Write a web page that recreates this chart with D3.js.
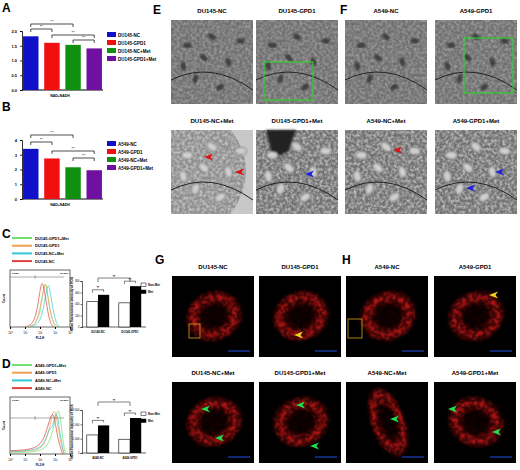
<!DOCTYPE html>
<html><head><meta charset="utf-8">
<script src="https://cdn.jsdelivr.net/npm/d3@7"></script>
<style>body{margin:0;background:#fff}text{font-family:Arial,"Liberation Sans",sans-serif}</style>
</head><body>
<svg id="fig" width="520" height="470"></svg>
<script>
// A, B: NAD+/NADH
var groupsA = ["DU145-NC","DU145-GPD1","DU145-NC+Met","DU145-GPD1+Met"];
var valuesA = [1.82,1.6,1.53,1.41];
var ticksA = [0,0.5,1.0,1.5,2.0];
var groupsB = ["A549-NC","A549-GPD1","A549-NC+Met","A549-GPD1+Met"];
var valuesB = [3.4,2.75,2.15,1.95];
var ticksB = [0,1,2,3,4];
var barColors = ["#1010c8","#f01010","#109010","#7010a0"];
// C, D: ROS
var rosGroupsC = ["DU145-NC","DU145-GPD1"];
var rosNonMetC = [440,420];
var rosMetC = [560,710];
var rosTicksC = [0,200,400,600,800];
var rosGroupsD = ["A549-NC","A549-GPD1"];
var rosNonMetD = [1260,960];
var rosMetD = [1925,2440];
var rosTicksD = [0,1000,2000,3000];
var flowColors = ["#70e070","#f0a050","#30c8d8","#e04040"];
// flow curves: [log10 FL2, relative count]
var flowC = [
  [[1.2,0],[1.8,0.05],[2.1,0.4],[2.3,0.85],[2.45,0.75],[2.7,0.2],[3.0,0.02],[3.3,0]],
  [[1.2,0],[1.8,0.05],[2.1,0.5],[2.35,0.9],[2.5,0.6],[2.8,0.1],[3.1,0]],
  [[1.3,0],[2.0,0.05],[2.3,0.45],[2.55,0.88],[2.7,0.6],[3.0,0.1],[3.3,0]],
  [[1.0,0],[1.6,0.05],[1.9,0.45],[2.1,0.9],[2.3,0.7],[2.6,0.1],[2.9,0]]
];
var flowD = [
  [[0,0.03],[1.5,0.03],[2.3,0.08],[2.8,0.3],[3.2,0.95],[3.4,0.6],[3.6,0.05],[3.8,0]],
  [[0,0.04],[1.5,0.05],[2.3,0.12],[2.7,0.55],[2.95,0.92],[3.2,0.5],[3.5,0.03],[3.7,0]],
  [[0,0.05],[1.5,0.06],[2.3,0.15],[2.6,0.5],[2.85,0.45],[3.1,0.9],[3.3,0.4],[3.6,0]],
  [[0,0.06],[1.5,0.08],[2.2,0.2],[2.6,0.6],[2.9,0.85],[3.15,0.3],[3.5,0]]
];
var emLabels = ["DU145-NC","DU145-GPD1","A549-NC","A549-GPD1","DU145-NC+Met","DU145-GPD1+Met","A549-NC+Met","A549-GPD1+Met"];

var svg = d3.select("#fig");
function letter(t,x,y){ svg.append("text").attr("x",x).attr("y",y).attr("font-size",12).attr("font-weight","bold").text(t); }
function small(t,x,y,fs,anchor){ return svg.append("text").attr("x",x).attr("y",y).attr("font-size",fs||4).attr("font-weight","bold").attr("text-anchor",anchor||"start").text(t); }

function nadChart(groups, values, ticks, top, bottom, sigs){
  var x = d3.scaleBand().domain(groups).range([22,103]).paddingInner(0.27).paddingOuter(0.05);
  var y = d3.scaleLinear().domain([0,ticks[ticks.length-1]]).range([bottom,top]);
  var g = svg.append("g");
  g.append("g").attr("transform","translate(22,0)").call(d3.axisLeft(y).tickValues(ticks).tickSize(2).tickFormat(function(d){return ticks[1]<1?d3.format(".1f")(d):d;}))
   .call(function(a){a.selectAll("text").attr("font-size",4).attr("font-weight","bold");a.selectAll("path,line").attr("stroke-width",0.8);});
  g.append("line").attr("x1",22).attr("x2",103).attr("y1",bottom).attr("y2",bottom).attr("stroke","#000");
  g.selectAll("rect.b").data(values).enter().append("rect")
   .attr("x",function(d,i){return x(groups[i]);}).attr("width",x.bandwidth())
   .attr("y",function(d){return y(d);}).attr("height",function(d){return bottom-y(d);})
   .attr("fill",function(d,i){return barColors[i];});
  sigs.forEach(function(s){
    var x1 = x(groups[s[0]])+x.bandwidth()/2, x2 = x(groups[s[1]])+x.bandwidth()/2, yy = s[2];
    g.append("path").attr("d","M"+x1+","+(yy+3)+"V"+yy+"H"+x2+"V"+(yy+3)).attr("fill","none").attr("stroke","#000").attr("stroke-width",0.7);
    g.append("text").attr("x",(x1+x2)/2).attr("y",yy-1).attr("text-anchor","middle").attr("font-size",4).text("**");
  });
  small("NAD+NADH",60,bottom+7,3.5,"middle");
  groups.forEach(function(n,i){
    g.append("rect").attr("x",107).attr("y",top+1+i*8).attr("width",9).attr("height",5).attr("fill",barColors[i]);
    small(n,118,top+5.5+i*8,4.5);
  });
}
letter("A",2,12);
nadChart(groupsA,valuesA,ticksA,31,90,[[0,2,24],[0,1,29],[1,3,35],[2,3,40]]);
letter("B",2,111);
nadChart(groupsB,valuesB,ticksB,140,199,[[0,2,135],[0,1,142],[1,3,151],[2,3,158]]);

function flowPanel(labels, curves, top, gateY){
  labels.forEach(function(n,i){
    svg.append("line").attr("x1",12).attr("x2",32).attr("y1",top+i*7.7).attr("y2",top+i*7.7).attr("stroke",flowColors[i]).attr("stroke-width",2);
    small(n,35,top+1.5+i*7.7,4);
  });
  var bx0 = 10, bx1 = 70, by0 = top+32, by1 = top+89;
  var x = d3.scaleLinear().domain([0,4]).range([bx0,bx1]);
  var y = d3.scaleLinear().domain([0,1]).range([by1,by0+3]);
  svg.append("rect").attr("x",bx0).attr("y",by0).attr("width",bx1-bx0).attr("height",by1-by0).attr("fill","none").attr("stroke","#000").attr("stroke-width",0.6);
  svg.append("g").attr("transform","translate(0,"+by1+")").call(d3.axisBottom(x).ticks(4).tickSize(2).tickFormat(function(d){return "10"+["⁰","¹","²","³","⁴"][d];}))
   .call(function(a){a.selectAll("text").attr("font-size",3);a.select("path").remove();});
  var line = d3.line().x(function(p){return x(p[0]);}).y(function(p){return y(p[1]);}).curve(d3.curveBasis);
  curves.forEach(function(c,i){
    svg.append("path").attr("d",line(c)).attr("fill","none").attr("stroke",flowColors[i]).attr("stroke-width",0.7);
  });
  svg.append("path").attr("d","M"+bx0+","+gateY+"H"+(bx1-6)+"M"+(bx0+25)+","+(gateY-2)+"V"+(gateY+2)).attr("stroke","#555").attr("stroke-width",0.5);
  small("Count",5,(by0+by1)/2,3).attr("transform","rotate(-90,5,"+((by0+by1)/2)+")").attr("text-anchor","middle");
  small("FL2-H",(bx0+bx1)/2,by1+12,3,"middle");
  small("0.05%",12,by0+4,2.5); small("99.95%",bx1-10,by0+4,2.5);
}
function rosChart(groups, non, met, ticks, top, bottom, sigY){
  var y = d3.scaleLinear().domain([0,ticks[ticks.length-1]]).range([bottom,top]);
  var x = d3.scaleBand().domain(groups).range([82,146]).paddingInner(0.3).paddingOuter(0.15);
  var w = x.bandwidth()/2;
  svg.append("g").attr("transform","translate(82,0)").call(d3.axisLeft(y).tickValues(ticks).tickSize(1.5).tickPadding(1))
   .call(function(a){a.selectAll("text").attr("font-size",2.6);a.selectAll("path,line").attr("stroke-width",0.6);});
  svg.append("line").attr("x1",82).attr("x2",146).attr("y1",bottom).attr("y2",bottom).attr("stroke","#000").attr("stroke-width",0.6);
  groups.forEach(function(gn,i){
    svg.append("rect").attr("x",x(gn)).attr("y",y(non[i])).attr("width",w).attr("height",bottom-y(non[i])).attr("fill","#fff").attr("stroke","#000").attr("stroke-width",0.6);
    svg.append("rect").attr("x",x(gn)+w).attr("y",y(met[i])).attr("width",w).attr("height",bottom-y(met[i])).attr("fill","#000");
    var yy = y(Math.max(non[i],met[i]))-5;
    svg.append("path").attr("d","M"+(x(gn)+w/2)+","+(yy+3)+"V"+yy+"H"+(x(gn)+1.5*w)+"V"+(yy+2)).attr("fill","none").attr("stroke","#000").attr("stroke-width",0.5);
    small("**",x(gn)+w,yy-0.5,3,"middle");
    small(gn,x(gn)+w,bottom+6,2.8,"middle");
  });
  var c0 = x(groups[0])+w, c1 = x(groups[1])+w;
  svg.append("path").attr("d","M"+c0+","+(sigY+4)+"V"+sigY+"H"+c1+"V"+(sigY+4)).attr("fill","none").attr("stroke","#000").attr("stroke-width",0.5);
  small("**",(c0+c1)/2,sigY-0.5,3,"middle");
  small("Mean fluorescence intensity of ROS",73,(top+bottom)/2,3.2).attr("text-anchor","middle").attr("transform","rotate(-90,73,"+((top+bottom)/2)+")");
  [["Non-Met","#fff"],["Met","#000"]].forEach(function(l,i){
    svg.append("rect").attr("x",141).attr("y",top+2+i*7).attr("width",5).attr("height",3.5).attr("fill",l[1]).attr("stroke","#000").attr("stroke-width",0.5);
    small(l[0],148,top+5+i*7,3);
  });
}
letter("C",2,238);
flowPanel(["DU145-GPD1+Met","DU145-GPD1","DU145-NC+Met","DU145-NC"],flowC,238,277);
rosChart(rosGroupsC,rosNonMetC,rosMetC,rosTicksC,281,327,278);
letter("D",2,368);
flowPanel(["A549-GPD1+Met","A549-GPD1","A549-NC+Met","A549-NC"],flowD,365,418);
rosChart(rosGroupsD,rosNonMetD,rosMetD,rosTicksD,410,453,402);

var defs = svg.append("defs");
defs.append("filter").attr("id","blur").append("feGaussianBlur").attr("stdDeviation",1.2);
// grainy texture for micrographs
var tex = defs.append("filter").attr("id","grain").attr("x",0).attr("y",0).attr("width",1).attr("height",1);
tex.append("feTurbulence").attr("type","fractalNoise").attr("baseFrequency",0.35).attr("numOctaves",2).attr("seed",3).attr("result","n");
tex.append("feColorMatrix").attr("in","n").attr("type","matrix").attr("values","0 0 0 0 0  0 0 0 0 0  0 0 0 0 0  0 0 0 1.6 -0.55").attr("result","a");
tex.append("feComposite").attr("in","SourceGraphic").attr("in2","a").attr("operator","in");
var spk = defs.append("filter").attr("id","speck").attr("x",0).attr("y",0).attr("width",1).attr("height",1);
spk.append("feTurbulence").attr("type","fractalNoise").attr("baseFrequency",0.25).attr("numOctaves",2).attr("seed",7).attr("result","n");
spk.append("feColorMatrix").attr("in","n").attr("type","matrix").attr("values","0 0 0 0 0  0 0 0 0 0  0 0 0 0 0  0 0 0 3 -1.1").attr("result","a");
spk.append("feGaussianBlur").attr("in","SourceGraphic").attr("stdDeviation",1.5).attr("result","b");
spk.append("feComposite").attr("in","b").attr("in2","a").attr("operator","in");

// E, F electron microscopy tiles
var emCols = [171,256,345,435], emRows = [20,130];
letter("E",153,14); letter("F",340,14);
emLabels.forEach(function(n,i){
  var cx = emCols[i%4], cy = emRows[Math.floor(i/4)];
  small(n,cx+41,cy-7,6,"middle");
  svg.append("rect").attr("x",cx).attr("y",cy).attr("width",82).attr("height",84).attr("fill",i==4?"#8e8e8e":"#707070");
  svg.append("rect").attr("x",cx).attr("y",cy).attr("width",82).attr("height",84).attr("fill",i>=4?"#d6d6d6":"#a8a8a8").attr("filter","url(#grain)");
  if (i==4) svg.append("path").attr("d","M"+(cx+60)+","+cy+"Q"+(cx+90)+","+(cy+40)+" "+(cx+60)+","+(cy+84)+"H"+(cx+82)+"V"+cy+"z").attr("fill","#c8c8c8");
  if (i==5) svg.append("path").attr("d","M"+(cx+10)+","+cy+"h30l-8,22l-15,6z").attr("fill","#222").attr("filter","url(#blur)");
  var blobs = [[0.2,0.3],[0.5,0.2],[0.7,0.5],[0.3,0.7],[0.6,0.8],[0.85,0.25],[0.4,0.45],[0.15,0.55]];
  blobs.forEach(function(b,j){
    svg.append("ellipse").attr("cx",cx+b[0]*82).attr("cy",cy+b[1]*84).attr("rx",i>=4?6:4).attr("ry",i>=4?4:2.3)
      .attr("transform","rotate("+(j*37)+","+(cx+b[0]*82)+","+(cy+b[1]*84)+")")
      .attr("fill",i>=4?"#d0d0d0":"#404040").attr("stroke","#2a2a2a").attr("stroke-width",0.7).attr("filter","url(#blur)");
  });
  svg.append("path").attr("d","M"+cx+","+(cy+60)+"Q"+(cx+40)+","+(cy+40)+" "+(cx+82)+","+(cy+70)).attr("fill","none").attr("stroke","#222").attr("stroke-width",1);
});
svg.append("rect").attr("x",264).attr("y",62).attr("width",49).attr("height",38).attr("fill","none").attr("stroke","#30d030").attr("stroke-width",1.2);
svg.append("rect").attr("x",464).attr("y",38).attr("width",49).attr("height",55).attr("fill","none").attr("stroke","#30d030").attr("stroke-width",1.2);
function arrow(x,y,c){
  svg.append("path").attr("d","M"+x+","+y+"l9,-3.5l-2.5,3.5l2.5,3.5z").attr("fill",c);
}
arrow(204,157,"#e01010"); arrow(235,172,"#e01010"); arrow(393,150,"#e01010");
arrow(305,174,"#2020e0"); arrow(495,172,"#2020e0"); arrow(466,188,"#2020e0");

// G, H fluorescence tiles
var flCols = [172,259,346,434], flRows = [276,382];
letter("G",155,264); letter("H",342,264);
var rgrad = defs.append("radialGradient").attr("id","cell");
rgrad.append("stop").attr("offset","0.4").attr("stop-color","#180000");
rgrad.append("stop").attr("offset","0.72").attr("stop-color","#e01818");
rgrad.append("stop").attr("offset","1").attr("stop-color","#000");
emLabels.forEach(function(n,i){
  var cx = flCols[i%4], cy = flRows[Math.floor(i/4)];
  small(n,cx+41,cy-7,6,"middle");
  svg.append("rect").attr("x",cx).attr("y",cy).attr("width",82).attr("height",81).attr("fill","#000");
  svg.append("ellipse").attr("cx",cx+42).attr("cy",cy+40).attr("rx",i==6?18:30).attr("ry",i==6?38:26)
    .attr("transform","rotate("+(i==7?25:-20)+","+(cx+42)+","+(cy+40)+")")
    .attr("fill","url(#cell)").attr("opacity",0.35);
  svg.append("ellipse").attr("cx",cx+42).attr("cy",cy+40).attr("rx",i==6?18:30).attr("ry",i==6?38:26)
    .attr("transform","rotate("+(i==7?25:-20)+","+(cx+42)+","+(cy+40)+")")
    .attr("fill","url(#cell)").attr("opacity",0.85).attr("filter","url(#speck)");
  svg.append("line").attr("x1",cx+56).attr("x2",cx+78).attr("y1",cy+75).attr("y2",cy+75).attr("stroke","#2050e0").attr("stroke-width",1);
});
svg.append("rect").attr("x",189).attr("y",324).attr("width",11).attr("height",14).attr("fill","none").attr("stroke","#d0a020").attr("stroke-width",0.8);
svg.append("rect").attr("x",348).attr("y",319).attr("width",14).attr("height",19).attr("fill","none").attr("stroke","#d0a020").attr("stroke-width",0.8);
arrow(294,335,"#f0d020"); arrow(489,295,"#f0d020");
[[201,409],[215,438],[296,405],[310,446],[390,419],[448,409],[492,432]].forEach(function(p){ arrow(p[0],p[1],"#20e050"); });
</script>
</body></html>
